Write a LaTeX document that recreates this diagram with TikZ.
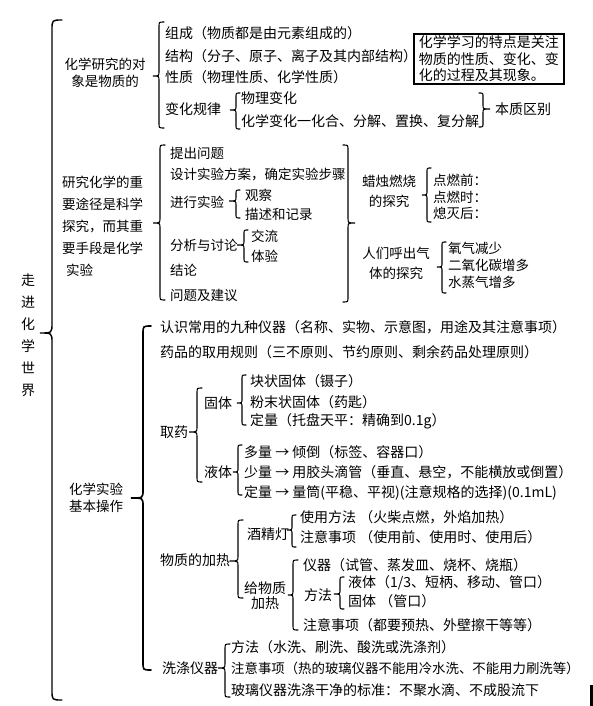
\documentclass[tikz,border=0pt]{standalone}
\usepackage{fontspec}
\setmainfont{Noto Sans CJK SC}
\newcommand\myfs[2]{\fontsize{#1}{#2}\selectfont}
\tikzset{
  lbl/.style={anchor=west, inner sep=0pt, font=\myfs{14}{16}},
  lblb/.style={anchor=west, inner sep=0pt, font=\myfs{13.5}{16}},
  blk/.style={inner sep=0pt, align=center},
  br/.style={line width=1.1pt, line cap=round},
}
% #1 style, #2 line x, #3 top y, #4 tip y, #5 bottom y, #6 tip x, #7 signed curl
\newcommand\mybrace[7][]{%
  \draw[br,#1] ({#2+#7},#3) .. controls (#2,#3) .. (#2,{#3+abs(#7)})
    -- (#2,{#4-abs(#7)}) .. controls (#2,#4) .. (#6,#4)
    .. controls (#2,#4) .. (#2,{#4+abs(#7)})
    -- (#2,{#5-abs(#7)}) .. controls (#2,#5) .. ({#2+#7},#5);}
\begin{document}
\begin{tikzpicture}[x=1pt,y=-1pt]
\fill[white] (0,0) rectangle (593,706);
\useasboundingbox (0,0) rectangle (593,706);

% root
\node[blk, font=\myfs{14}{22}] (root) at (28,335) {走\\进\\化\\学\\世\\界};
\mybrace[line width=1.4pt]{52}{20}{333}{700}{40}{10}

% ---------- section 1
\node[blk, font=\myfs{13.5}{17}] (obj) at (105,73) {化学研究的对\\象是物质的};
\mybrace{159}{22}{76}{128}{153}{5}
\node[lbl] (zc) at (165,33) {组成（物质都是由元素组成的）};
\node[lbl] (jg) at (165,56) {结构（分子、原子、离子及其内部结构）};
\node[lbl] (xz) at (165,77) {性质（物理性质、化学性质）};
\node[lbl] (bh) at (165,109) {变化规律};
\mybrace{236}{93}{110}{129}{230}{4}
\node[lbl] (wl) at (241,98) {物理变化};
\node[lbl] (hx) at (241,121) {化学变化一化合、分解、置换、复分解};
\mybrace{483}{93}{109}{127}{490}{-4}
\node[lbl] (bz) at (495,109) {本质区别};
\node[draw, line width=1.6pt, inner xsep=3pt, inner ysep=2pt, align=left,
      font=\myfs{14}{16.5}, minimum width=150pt, anchor=north west] (box) at (413,33)
  {化学学习的特点是关注\\物质的性质、变化、变\\化的过程及其现象。};

% ---------- section 2
\node[blk, align=left, anchor=west, font=\myfs{13.5}{22}] (way) at (62,226)
  {研究化学的重\\要途径是科学\\探究，而其重\\要手段是化学\\\hspace{4pt}实验};
\mybrace{160}{145}{223}{300}{153}{5}
\node[lblb] (tc) at (170,153) {提出问题};
\node[lblb] (sj) at (170,175) {设计实验方案，确定实验步骤};
\node[lblb] (jx) at (170,202) {进行实验};
\mybrace{236}{190}{201}{218}{229}{4}
\node[lblb] (gc) at (245,195) {观察};
\node[lblb] (ms) at (245,214) {描述和记录};
\node[lblb] (fx) at (170,245) {分析与讨论};
\mybrace{244}{230}{245}{262}{237}{4}
\node[lblb] (jl) at (251,236) {交流};
\node[lblb] (ty) at (251,256) {体验};
\node[lblb] (jl2) at (170,270) {结论};
\node[lblb] (wt) at (170,295) {问题及建议};
\mybrace{348}{145}{223}{302}{355}{-5}
\node[blk, font=\myfs{13.5}{20}] (lz) at (389,191) {蜡烛燃烧\\的探究};
\mybrace{427}{168}{195}{222}{422}{4}
\node[lblb] (q1) at (433,180) {点燃前：};
\node[lblb] (q2) at (433,197) {点燃时：};
\node[lblb] (q3) at (433,213) {熄灭后：};
\node[blk, font=\myfs{13.5}{20}] (hq) at (396,263) {人们呼出气\\体的探究};
\mybrace{442}{242}{267}{293}{437}{4}
\node[lblb] (h1) at (448,248) {氧气减少};
\node[lblb] (h2) at (448,265) {二氧化碳增多};
\node[lblb] (h3) at (448,282) {水蒸气增多};

% ---------- section 3
\node[blk, font=\myfs{13.5}{17}] (jc) at (96,498) {化学实验\\基本操作};
\mybrace[line width=1.6pt]{143}{326}{498}{670}{131}{8}
\node[lbl] (rs) at (160,327) {认识常用的九种仪器（名称、实物、示意图，用途及其注意事项）};
\node[lbl] (yp) at (160,352) {药品的取用规则（三不原则、节约原则、剩余药品处理原则）};
\node[lbl] (qy) at (160,432) {取药};
\mybrace{197}{388}{432}{482}{189}{5}
\node[lbl] (gt) at (204,403) {固体};
\mybrace{242}{375}{403}{425}{237}{4}
\node[lbl] (kz) at (250,381) {块状固体（镊子）};
\node[lbl] (fm) at (250,402) {粉末状固体（药匙）};
\node[lbl] (dl) at (250,421) {定量（托盘天平：精确到0.1g）};
\node[lbl] (yt) at (204,472) {液体};
\mybrace{238}{445}{472}{495}{233}{4}
\node[lbl] (d1) at (244,452) {多量 → 倾倒（标签、容器口）};
\node[lbl] (d2) at (244,472) {少量 → 用胶头滴管（垂直、悬空，不能横放或倒置）};
\node[lbl] (d3) at (244,493) {定量 → 量筒(平稳、平视)(注意规格的选择)(0.1mL)};
\node[lbl] (wzjr) at (160,560) {物质的加热};
\mybrace{238}{520}{561}{598}{230}{5}
\node[lbl] (jj) at (247,534) {酒精灯};
\mybrace{292}{515}{530}{547}{287}{4}
\node[lbl] (syff) at (300,517) {使用方法 （火柴点燃，外焰加热）};
\node[lbl] (zysx) at (300,537) {注意事项 （使用前、使用时、使用后）};
\node[blk, font=\myfs{14}{15}] (gwz) at (265,596) {给物质\\加热};
\mybrace{293}{560}{595}{630}{288}{5}
\node[lbl] (yq) at (303,565) {仪器（试管、蒸发皿、烧杯、烧瓶）};
\node[lbl] (ff) at (304,595) {方法};
\mybrace{340}{577}{594}{609}{334}{4}
\node[lbl] (yt2) at (348,583) {液体（1/3、短柄、移动、管口）};
\node[lbl] (gt2) at (348,601) {固体 （管口）};
\node[lbl] (zysx2) at (303,625) {注意事项（都要预热、外壁擦干等等）};
\node[lbl] (xd) at (162,668) {洗涤仪器};
\mybrace{225}{644}{668}{697}{218}{5}
\node[lbl] (xf) at (231,647) {方法（水洗、刷洗、酸洗或洗涤剂）};
\node[lbl, font=\myfs{13.4}{16}] (xz2) at (231,668) {注意事项（热的玻璃仪器不能用冷水洗、不能用力刷洗等）};
\node[lbl] (bz2) at (231,690) {玻璃仪器洗涤干净的标准：不聚水滴、不成股流下};

\fill[black] (590,685) rectangle (593,706);
\end{tikzpicture}
\end{document}
